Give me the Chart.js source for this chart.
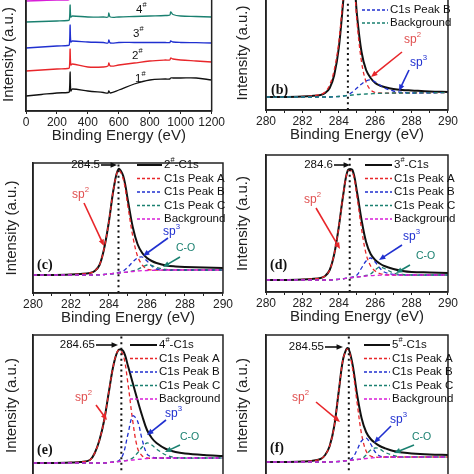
<!DOCTYPE html>
<html><head><meta charset="utf-8">
<script src="https://cdn.jsdelivr.net/npm/chart.js@4/dist/chart.umd.min.js"></script>
<style>body{margin:0;width:474px;height:474px;overflow:hidden;background:#fff;position:relative}canvas{position:absolute}</style>
</head><body>
<script>
// ---- data ----
const surveyE=[0,100,200,270,280,285,290,300,400,500,530,535,545,600,700,800,900,930,935,950,1000,1100,1200];
const survey1=[15,16.5,18,18.5,19,39,20,22,20,18.5,18,20,18,21,27,31,32,32,33,33,33,33,31];
const survey2=[40,41,42,42.5,43,62,46,47,44,44,45,48,45,46,48,50,51,51,53,52,51,50,49];
const survey3=[63,64,65,65.5,66,86,69,70,69,68.5,68,71,68,68.5,68.5,68.5,68.5,68.5,70,69,68.5,68.3,68];
const survey4=[89,89.5,90,90.5,91,106,94,95,94,94,94,98,94,94,94.5,95,95.5,96,99,96.5,95,94.5,94];
const survey5=[110,110.5,111,111,111.5,140,null,null,null,null,null,null,null,null,null,null,null,null,null,null,null,null,null];
const surveyLabels=['1','2','3','4'];

const E=[280,281,282,282.5,283,283.25,283.5,283.75,284,284.25,284.5,284.75,285,285.25,285.5,285.75,286,286.25,286.5,287,287.5,288,289,290];
const bTotal=[13,13,13.5,14,15,17,22,35,62,110,160,150,95,58,40,32,27,24.5,23,21,20,19.5,18.5,18];
const bA=[13,13,13.5,14,15.5,18,25,40,68,115,160,148,88,48,28,20,17.5,17,16.8,17,17,17,17.2,17.5];
const bB=[13,13,13,13,13,13,13,13.2,13.5,14,15,18,22,26,29,30,28,25,22,19,17.5,17,17.2,17.5];
const bBg=[13,13,13,13,13,13,13,13.2,13.5,14,14.5,15,15.5,15.8,16,16.2,16.5,16.7,16.8,17,17,17,17.2,17.5];
const cTotal=[18,18,18.5,19,20,22,28,45,72,105,124,117,92,66,49,40,35,32,30,27.5,26.5,26,25.5,25];
const cA=[18,18,18.5,19,20,22,28,45,72,105,123,114,86,57,37,28,24,23,22.8,23,23,23,23,23];
const cB=[18,18,18,18,18,18,18.2,18.5,19,19.5,20.5,22,26,31,35,36,32,27,24,23,23,23,23,23];
const cC=[18,18,18,18,18,18,18.2,18.5,19,19.5,20,20.5,21,22,23.5,26,28,27.5,25.5,23.5,23,23,23,23];
const cBg=[18,18,18,18,18,18,18.2,18.5,19,19.5,20,20.5,21,21.5,22,22.3,22.5,22.7,22.8,23,23,23,23,23];
const dTotal=[12,12,12.5,13,14,16,22,38,65,98,122,122,100,72,50,38,32,28.5,26,23,21,20,19.5,19];
const dA=[12,12,12.5,13,14,16,22,38,65,98,121,120,95,63,38,26,21,18.5,17.5,17,17,17,17,17];
const dB=[12,12,12,12,12,12,12,12.3,12.7,13.2,14,15,17,24,31,34,30,24,20,17.5,17,17,17,17];
const dC=[12,12,12,12,12,12,12,12.3,12.7,13.2,14,14.5,15,15.5,16.5,18,22,25,23.5,19,17.5,17,17,17];
const dBg=[12,12,12,12,12,12,12,12.3,12.7,13.2,14,14.5,15,15.5,16,16.3,16.6,16.8,17,17,17,17,17,17];
const eTotal=[13,13,13.5,14,16,23,36,56,85,112,126,125,110,93,76,60,46,38,33,27,24,22.5,21,20];
const eA=[13,13,13.5,14,16,23,36,56,85,112,126,121,92,55,28,20,18,17.8,18,18,18,18,18,18];
const eB=[13,13,13,13,13,13,13,13,13.5,14,15,22,42,60,55,36,22,19,18,18,18,18,18,18];
const eC=[13,13,13,13,13,13,13,13,13.5,14,14.5,15,16,18,23,29,33,31,27,21,18.5,18,18,18];
const eBg=[13,13,13,13,13,13,13,13,13.5,14,14.5,15,15.5,16,16.5,17,17.5,17.8,18,18,18,18,18,18];
const fTotal=[14,14,14.5,15,17,21,30,50,85,118,128,112,82,58,44,37,33,30,28,25,23.5,22.5,21.5,21];
const fA=[14,14,14.5,15,17,21,30,50,85,118,127,108,74,42,25,20,19,18.7,19,19,19,19,19,19];
const fB=[14,14,14,14,14,14,14,14.2,14.5,15,15.5,18,26,35,38,32,24,20,19,19,19,19,19,19];
const fC=[14,14,14,14,14,14,14,14.2,14.5,15,15.5,16,16.5,17,21,26,28,27,24,20.5,19,19,19,19];
const fBg=[14,14,14,14,14,14,14,14.2,14.5,15,15.5,16,16.5,17,17.5,18,18.5,18.7,19,19,19,19,19,19];
const peakPos={b:284.5,c:284.5,d:284.6,e:284.65,f:284.55};
const peakText={c:'284.5',d:'284.6',e:'284.65',f:'284.55'};

// ---- helpers ----
const FONT='"Liberation Sans", Arial, sans-serif';
const RED='#e8262a',BLUE='#2030d0',TEAL='#1a8070',MAG='#d81ed8',DRED='#e05050';
const PADT=12;
const pts=(xs,ys)=>xs.map((x,i)=>({x,y:ys[i]}));
function line(data,color,dash,w){return{data,borderColor:color,borderWidth:w||1.3,borderDash:dash||[],pointRadius:0,tension:0.35,fill:false,spanGaps:false};}
function sup(ctx,parts,x,y,size,align){
  let total=0;parts.forEach(p=>{ctx.font=(p[1]?size*0.65:size)+'px '+FONT;total+=ctx.measureText(p[0]).width;});
  let cx=align==='right'?x-total:align==='center'?x-total/2:x;
  ctx.textAlign='left';ctx.textBaseline='middle';
  parts.forEach(p=>{ctx.font=(p[1]?size*0.65:size)+'px '+FONT;ctx.fillText(p[0],cx,p[1]?y-size*0.4:y);cx+=ctx.measureText(p[0]).width;});
}
function arrow(ctx,x1,y1,x2,y2,color){
  ctx.save();ctx.strokeStyle=color;ctx.fillStyle=color;ctx.lineWidth=1.6;
  const a=Math.atan2(y2-y1,x2-x1),h=7;
  ctx.beginPath();ctx.moveTo(x1,y1);ctx.lineTo(x2-h*0.8*Math.cos(a),y2-h*0.8*Math.sin(a));ctx.stroke();
  ctx.beginPath();ctx.moveTo(x2,y2);ctx.lineTo(x2-h*Math.cos(a-0.4),y2-h*Math.sin(a-0.4));ctx.lineTo(x2-h*Math.cos(a+0.4),y2-h*Math.sin(a+0.4));ctx.closePath();ctx.fill();ctx.restore();
}
const deco={id:'deco',afterDatasetsDraw(chart){
  const o=chart.options.plugins.deco;if(!o)return;const ctx=chart.ctx,ca=chart.chartArea;
  ctx.save();ctx.strokeStyle='#222';ctx.lineWidth=1.5;ctx.strokeRect(ca.left,ca.top,ca.right-ca.left,ca.bottom-ca.top);
  ctx.translate(-o.ox,-o.oy);
  (o.legend||[]).forEach(L=>{ctx.save();ctx.strokeStyle=L.c;ctx.lineWidth=L.dash?1.3:2;ctx.setLineDash(L.dash?[3,2]:[]);ctx.beginPath();ctx.moveTo(L.x1,L.y);ctx.lineTo(L.x2,L.y);ctx.stroke();ctx.restore();ctx.fillStyle='#111';sup(ctx,L.t,L.x2+2,L.y,11.5,'left');});
  (o.arrows||[]).forEach(a=>arrow(ctx,a[0],a[1],a[2],a[3],a[4]));
  (o.texts||[]).forEach(t=>{ctx.fillStyle=t.c||'#111';if(t.bold){ctx.font='bold 14px "Liberation Serif", serif';ctx.textAlign='left';ctx.textBaseline='middle';ctx.fillText(t.t,t.x,t.y);}else sup(ctx,t.p,t.x,t.y,t.s||11.5,t.a||'left');});
  ctx.restore();
}};
Chart.register(deco);

function panel(box,yW,xH,xr,step,evenOnly,ymax,datasets,deco){
  const c=document.createElement('canvas');
  const left=box.l-yW,top=box.t-PADT,w=box.r-box.l+yW+4,h=box.b-box.t+xH+PADT;
  c.width=w;c.height=h;c.style.left=left+'px';c.style.top=top+'px';c.style.width=w+'px';c.style.height=h+'px';
  document.body.appendChild(c);
  deco.ox=left;deco.oy=top;
  new Chart(c,{type:'line',data:{datasets},options:{responsive:false,animation:false,devicePixelRatio:1,
    layout:{padding:{top:PADT,right:4,left:0,bottom:0}},
    plugins:{legend:{display:false},tooltip:{enabled:false},deco},
    scales:{
      x:{type:'linear',min:xr[0],max:xr[1],afterFit:s=>{s.height=xH;},
        grid:{drawOnChartArea:false,tickLength:3,color:'#222'},border:{color:'#222',width:1.5},
        ticks:{stepSize:step,maxRotation:0,autoSkip:false,color:'#222',font:{family:FONT,size:12},padding:1,callback:v=>(!evenOnly||v%2===0)?String(v):''},
        title:{display:true,text:'Binding Energy (eV)',color:'#222',font:{family:FONT,size:15},padding:{top:0,bottom:0}}},
      y:{min:0,max:ymax,afterFit:s=>{s.width=yW;},grid:{display:false},border:{color:'#222',width:1.5},
        ticks:{display:false},title:{display:true,text:'Intensity (a.u.)',color:'#222',font:{family:FONT,size:15},padding:0}}
    }}});
}
function peakLine(k,ymax){return line([{x:peakPos[k],y:0},{x:peakPos[k],y:ymax}],'#111',[2,3.5],2);}
function hr(pre){return [[pre,false],['#',true],['-C1s',false]];}
const SP2=[['sp',false],['2',true]],SP3=[['sp',false],['3',true]];

// (a) survey
panel({l:26,t:-2,r:222,b:111},26,34,[0,1200],200,false,113,[
  line(pts(surveyE,survey1),'#111'),line(pts(surveyE,survey2),RED),line(pts(surveyE,survey3),BLUE),
  line(pts(surveyE,survey4),TEAL),line(pts(surveyE,survey5),MAG)],
  {texts:[{p:[[surveyLabels[0],false],['#',true]],x:135,y:79},{p:[[surveyLabels[1],false],['#',true]],x:132,y:56},{p:[[surveyLabels[2],false],['#',true]],x:133,y:34},{p:[[surveyLabels[3],false],['#',true]],x:136,y:10}]});

// (b)
panel({l:266,t:-4,r:455,b:110},32,34,[280,290],1,true,114,[
  peakLine('b',114),line(pts(E,bBg),TEAL,[4,3]),line(pts(E,bB),BLUE,[4,3]),line(pts(E,bA),RED,[4,3]),line(pts(E,bTotal),'#111',[],2)],
  {legend:[{t:[['C1s Peak A',false]],c:RED,dash:1,x1:362,x2:388,y:-3},{t:[['C1s Peak B',false]],c:BLUE,dash:1,x1:362,x2:388,y:10},{t:[['Background',false]],c:TEAL,dash:1,x1:362,x2:388,y:23}],
   arrows:[[402,52,371,77,RED],[409,70,399,91,BLUE]],
   texts:[{p:SP2,x:404,y:40,c:DRED,s:12},{p:SP3,x:410,y:63,c:BLUE,s:12},{t:'(b)',bold:1,x:271,y:90}]});

function fitPanel(k,box,ymax,T,A,B,C,Bg,lg,tag,ann){
  panel(box,box.l<100?30:32,34,[280,290],1,true,ymax,[
    peakLine(k,ymax),line(pts(E,Bg),MAG,[4,3]),line(pts(E,C),TEAL,[4,3]),line(pts(E,B),BLUE,[4,3]),line(pts(E,A),RED,[4,3]),line(pts(E,T),'#111',[],2)],
    {legend:[{t:hr(tag),c:'#111',x1:lg.x1,x2:lg.x2,y:lg.y},{t:[['C1s Peak A',false]],c:RED,dash:1,x1:lg.x1,x2:lg.x2,y:lg.y+13.5},{t:[['C1s Peak B',false]],c:BLUE,dash:1,x1:lg.x1,x2:lg.x2,y:lg.y+27},{t:[['C1s Peak C',false]],c:TEAL,dash:1,x1:lg.x1,x2:lg.x2,y:lg.y+40.5},{t:[['Background',false]],c:MAG,dash:1,x1:lg.x1,x2:lg.x2,y:lg.y+54}],
     arrows:[[ann.pk[0]+1,ann.pk[1],ann.pk[2],ann.pk[1],'#111'],ann.s2.concat([RED]),ann.s3.concat([BLUE]),ann.co.concat([TEAL])],
     texts:[{p:[[peakText[k],false]],x:ann.pk[0],y:ann.pk[1],a:'right'},{p:SP2,x:ann.t2[0],y:ann.t2[1],c:DRED,s:12},{p:SP3,x:ann.t3[0],y:ann.t3[1],c:BLUE,s:12},{p:[['C-O',false]],x:ann.tc[0],y:ann.tc[1],c:TEAL,s:10.5},{t:'('+k+')',bold:1,x:ann.lab[0],y:ann.lab[1]}]});
}
fitPanel('c',{l:33,t:163,r:230,b:293},130,cTotal,cA,cB,cC,cBg,{x1:137,x2:162,y:165},'2',
  {pk:[100,165,117],s2:[84,203,104,246],s3:[168,238,143,256],co:[180,257,163,267],t2:[72,195],t3:[163,232],tc:[176,248],lab:[37,265]});
fitPanel('d',{l:266,t:155,r:455,b:292},137,dTotal,dA,dB,dC,dBg,{x1:365,x2:392,y:165},'3',
  {pk:[333,165,350],s2:[316,208,340,249],s3:[402,245,379,260],co:[410,265,396,273],t2:[304,200],t3:[403,237],tc:[416,256],lab:[270,265]});
fitPanel('e',{l:33,t:335,r:230,b:476},141,eTotal,eA,eB,eC,eBg,{x1:130,x2:157,y:345},'4',
  {pk:[95,345,118],s2:[96,405,107,420],s3:[166,420,147,435],co:[180,445,165,452],t2:[75,398],t3:[165,414],tc:[180,437],lab:[37,450]});
fitPanel('f',{l:266,t:335,r:455,b:476},141,fTotal,fA,fB,fC,fBg,{x1:364,x2:390,y:345},'5',
  {pk:[324,347,343],s2:[316,402,340,422],s3:[391,426,374,443],co:[414,445,394,453],t2:[292,398],t3:[390,420],tc:[412,437],lab:[270,448]});
</script>
</body></html>
